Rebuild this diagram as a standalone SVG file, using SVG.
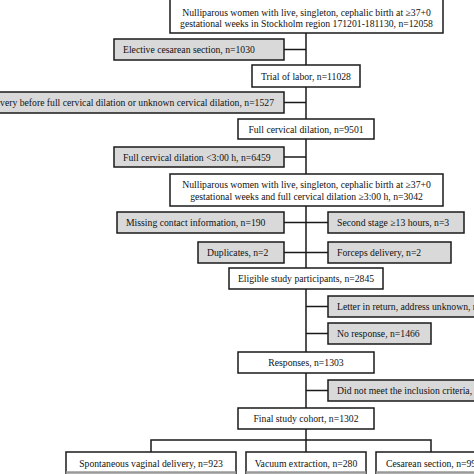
<svg xmlns="http://www.w3.org/2000/svg" width="474" height="474" viewBox="0 0 474 474">
<style>
.w{fill:#fff;stroke:#1a1a1a;stroke-width:1.5}
.g{fill:#d9d9d9;stroke:#1a1a1a;stroke-width:1.5}
.c{fill:none;stroke:#1a1a1a;stroke-width:1.5}
text{font-family:"Liberation Serif","Times New Roman",serif;font-size:9.7px;fill:#111}
.m{text-anchor:middle}
.e{text-anchor:end}
</style>
<rect width="474" height="474" fill="#fff"/>
<g id="connectors">
<path class="c" d="M306,33V440M284,49.5H306M284,102.5H306M284,157H306M284,222.5H328M284,252.5H328M306,306.5H328M306,333.5H328M306,390.5H328M151,452V440H431V452M306,440V452"/>
</g>
<g id="n1"><rect class="w" x="170" y="-1" width="273" height="34"/>
<text class="m" x="306.5" y="15.5">Nulliparous women with live, singleton, cephalic birth at ≥37+0</text>
<text class="m" x="306.5" y="27">gestational weeks in Stockholm region 171201-181130, n=12058</text></g>
<g id="n2"><rect class="g" x="114" y="39" width="170" height="21"/><text x="123" y="53">Elective cesarean section, n=1030</text></g>
<g id="n3"><rect class="w" x="252" y="65" width="108" height="22"/><text class="m" x="306" y="79.5">Trial of labor, n=11028</text></g>
<g id="n4"><rect class="g" x="-20" y="92" width="304" height="21"/><text class="e" x="274" y="106">Delivery before full cervical dilation or unknown cervical dilation, n=1527</text></g>
<g id="n5"><rect class="w" x="238" y="119" width="136" height="20"/><text class="m" x="306" y="132.5">Full cervical dilation, n=9501</text></g>
<g id="n6"><rect class="g" x="114" y="147" width="170" height="20"/><text x="123" y="160.5">Full cervical dilation &lt;3:00 h, n=6459</text></g>
<g id="n7"><rect class="w" x="170" y="174" width="273" height="32"/>
<text class="m" x="306.5" y="188">Nulliparous women with live, singleton, cephalic birth at ≥37+0</text>
<text class="m" x="306.5" y="200">gestational weeks and full cervical dilation ≥3:00 h, n=3042</text></g>
<g id="n8"><rect class="g" x="117" y="212" width="167" height="21"/><text x="126" y="226">Missing contact information, n=190</text></g>
<g id="n9"><rect class="g" x="328" y="212" width="136" height="21"/><text x="337" y="226">Second stage ≥13 hours, n=3</text></g>
<g id="n10"><rect class="g" x="198" y="242" width="86" height="21"/><text x="207" y="256">Duplicates, n=2</text></g>
<g id="n11"><rect class="g" x="328" y="242" width="123" height="21"/><text x="337" y="256">Forceps delivery, n=2</text></g>
<g id="n12"><rect class="w" x="229" y="268" width="154" height="21"/><text class="m" x="306" y="282">Eligible study participants, n=2845</text></g>
<g id="n13"><rect class="g" x="328" y="296" width="170" height="21"/><text x="337" y="310">Letter in return, address unknown, n=76</text></g>
<g id="n14"><rect class="g" x="328" y="323" width="103" height="21"/><text x="337" y="337">No response, n=1466</text></g>
<g id="n15"><rect class="w" x="238" y="352" width="136" height="21"/><text class="m" x="306" y="366">Responses, n=1303</text></g>
<g id="n16"><rect class="g" x="328" y="380" width="170" height="21"/><text x="337" y="394">Did not meet the inclusion criteria, n=1</text></g>
<g id="n17"><rect class="w" x="238" y="408" width="136" height="21"/><text class="m" x="306" y="422">Final study cohort, n=1302</text></g>
<g id="n18"><rect class="w" x="66" y="452" width="170" height="30"/><text class="m" x="151" y="466.5">Spontaneous vaginal delivery, n=923</text></g>
<g id="n19"><rect class="w" x="246" y="452" width="120" height="30"/><text class="m" x="306" y="466.5">Vacuum extraction, n=280</text></g>
<g id="n20"><rect class="w" x="376" y="452" width="120" height="30"/><text x="386" y="466.5">Cesarean section, n=99</text></g>
<path d="M66,472.5H236M246,472.5H366M376,472.5H474" stroke="#999" stroke-width="2.5" fill="none"/>
</svg>
